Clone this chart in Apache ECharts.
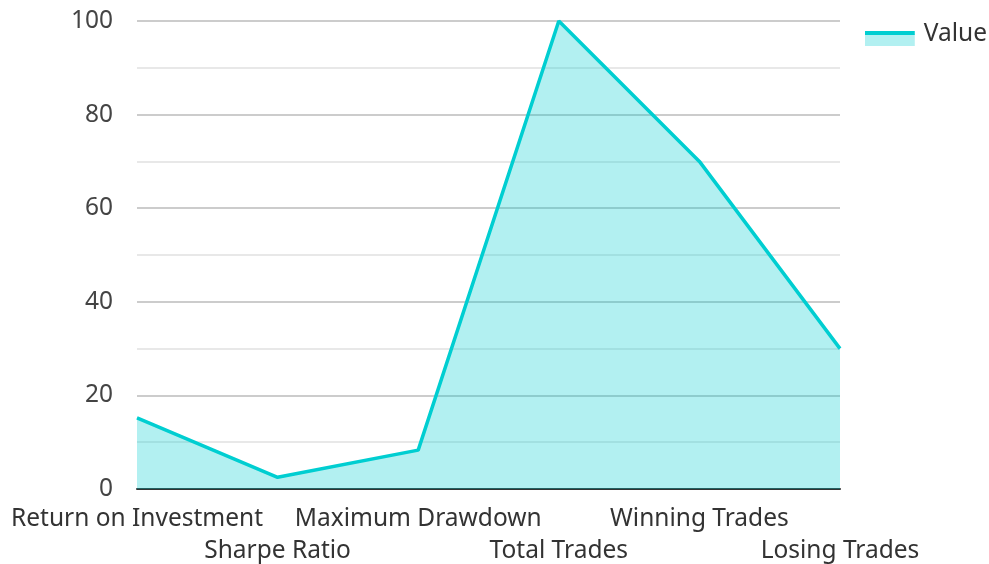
<!DOCTYPE html>
<html lang="en">
<head>
    <meta charset="UTF-8">
    <title>Trading metrics</title>
    <style>
        html, body { margin: 0; padding: 0; background: #fff; }
        #main { width: 989px; height: 564px; }
    </style>
    <script src="https://cdn.jsdelivr.net/npm/echarts@6/dist/echarts.min.js"></script>
</head>
<body>
<div id="main"></div>
<script type="text/javascript">
    var categories = ['Return on Investment', 'Sharpe Ratio', 'Maximum Drawdown', 'Total Trades', 'Winning Trades', 'Losing Trades'];
    var values = [15.2, 2.5, 8.3, 100, 70, 30];
    var seriesName = 'Value';

    // legend icon: thick line with the light area hanging below it
    var legendIcon = 'image://data:image/svg+xml;utf8,' + encodeURIComponent(
        '<svg xmlns="http://www.w3.org/2000/svg" width="54" height="30">' +
        '<rect x="0" y="15" width="50" height="12" fill="#b2f0f1"/>' +
        '<rect x="0" y="12" width="50" height="4" fill="#00CED1"/></svg>');

    var myChart = echarts.init(document.getElementById('main'));
    var option = {
        textStyle: { fontFamily: 'Noto Sans' },
        legend: {
            right: 2,
            top: 19,
            padding: 0,
            itemWidth: 54,
            itemHeight: 30,
            itemGap: 8,
            textStyle: { fontSize: 24.5, color: '#333', fontFamily: 'Noto Sans' },
            data: [{ name: seriesName, icon: legendIcon }]
        },
        grid: { left: 137, right: 149, top: 21, bottom: 75, outerBoundsMode: 'none', containLabel: false },
        xAxis: {
            type: 'category',
            boundaryGap: false,
            data: categories,
            axisLine: { lineStyle: { color: '#333', width: 2 } },
            axisTick: { show: false },
            axisLabel: {
                interval: 0,
                fontSize: 24.5,
                color: '#333',
                margin: 14,
                lineHeight: 32,
                formatter: function (v, i) { return i % 2 ? '\n' + v : v; }
            }
        },
        yAxis: {
            type: 'value',
            min: 0,
            max: 100,
            interval: 20,
            axisLabel: { fontSize: 24.5, color: '#444', margin: 24 },
            axisLine: { show: false },
            axisTick: { show: false },
            splitLine: { lineStyle: { color: '#ccc', width: 2 } },
            minorTick: { show: false, splitNumber: 2 },
            minorSplitLine: { show: true, lineStyle: { color: '#e8e8e8', width: 2 } }
        },
        series: [{
            name: seriesName,
            type: 'line',
            data: values,
            showSymbol: false,
            symbol: 'none',
            lineStyle: { color: '#00CED1', width: 3.5 },
            itemStyle: { color: '#00CED1' },
            areaStyle: { color: '#00CED1', opacity: 0.3 }
        }]
    };
    myChart.setOption(option);
</script>
</body>
</html>
